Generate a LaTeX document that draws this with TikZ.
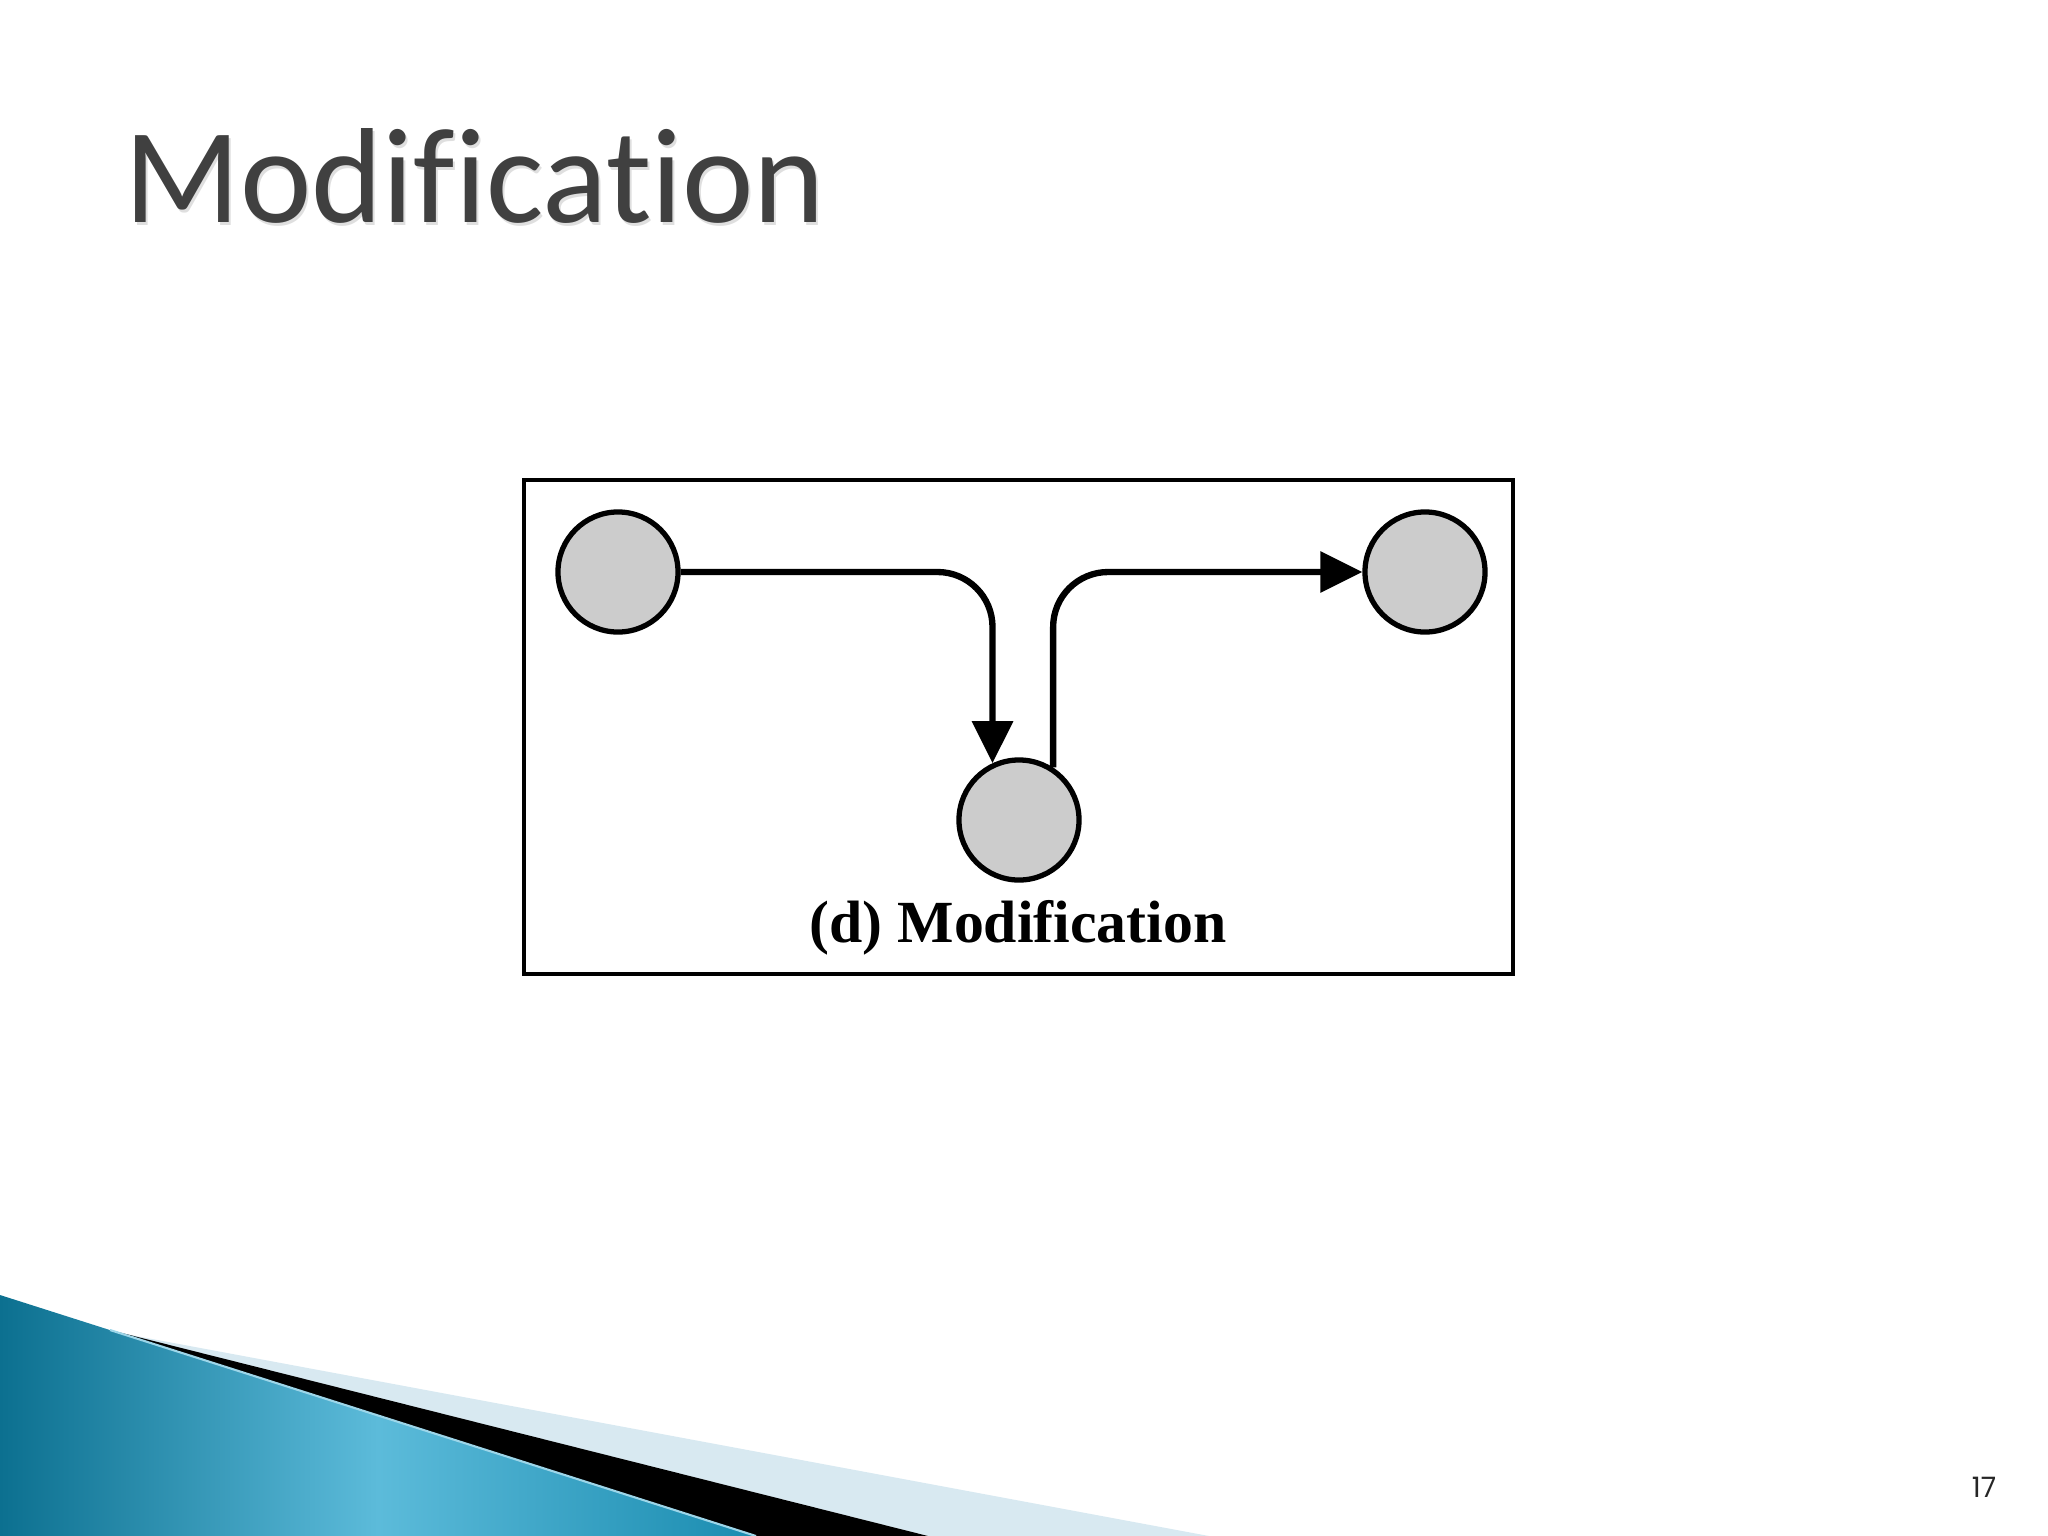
\documentclass[tikz,border=0pt]{standalone}
\usepackage{fontspec}
\setmainfont{Liberation Serif}
\newfontfamily\titlefont[Ligatures={NoCommon,NoContextual}]{Carlito}
\newfontfamily\numfont{Poppins}
\usetikzlibrary{arrows.meta}
\definecolor{titlegray}{HTML}{404040}
\definecolor{nodegray}{HTML}{CCCCCC}
\definecolor{swdark}{HTML}{0C7090}
\definecolor{swlight}{HTML}{5CBBDA}
\definecolor{swedge}{HTML}{1A8CB0}
\definecolor{swpale}{HTML}{D8E9F1}

\begin{document}
\begin{tikzpicture}[x=0.01cm, y=-0.01cm,
		state/.style={circle, draw, line width=1.5pt, fill=nodegray, minimum size=1.2cm, inner sep=0pt},
		flow/.style={line width=1.8pt, rounded corners=0.55cm, -{Triangle[length=0.42cm,width=0.4cm]}}]
			\useasboundingbox (0,0) rectangle (2048,1536);
			% swoosh at the bottom left
			\fill[swpale] (120,1333) -- (1209,1536) -- (928,1536) -- cycle;
			\fill[black] (110,1330) -- (928,1536) -- (756,1536) -- cycle;
			\shade[left color=swdark, right color=swedge, middle color=swlight] (0,1295) -- (756,1536) -- (0,1536) -- cycle;
			\draw[swlight!60!white, line width=0.6pt] (110,1330) -- (756,1536);
			% title
			\node[anchor=base west, inner sep=0pt, text=gray!25, font=\titlefont\fontsize{38.5}{46}\selectfont] (titleshadow) at (126,225) {Modification};
			\node[anchor=base west, inner sep=0pt, text=titlegray, font=\titlefont\fontsize{38.5}{46}\selectfont] (title) at (124,222) {Modification};
			% frame
			\draw[line width=1.4pt] (524,480) rectangle (1513,974);
			\node[state] (A) at (618,572) {};
			\node[state] (B) at (1019,820) {};
			\node[state] (C) at (1425,572) {};
			\draw[flow] (A.east) -| (B.115);
			\draw[flow] (B.57) |- (C.west);
			\node[anchor=base, inner sep=0pt, font=\bfseries\fontsize{17}{20}\selectfont] (caption) at (1018,942) {(d) Modification};
			% page number
			\node[anchor=base east, inner sep=0pt, text=black!85, font=\numfont\fontsize{8}{10}\selectfont] (pagenum) at (1997,1497) {17};
		\end{tikzpicture}
\end{document}
